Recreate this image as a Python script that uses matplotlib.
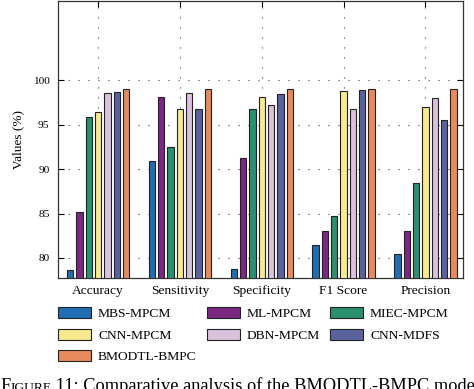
import numpy as np
import matplotlib
matplotlib.use('Agg')
import matplotlib.pyplot as plt

plt.rcParams['font.family'] = ['Liberation Serif', 'DejaVu Serif']

metrics = ['Accuracy', 'Sensitivity', 'Specificity', 'F1 Score', 'Precision']
models = ['MBS-MPCM', 'ML-MPCM', 'MIEC-MPCM', 'CNN-MPCM', 'DBN-MPCM', 'CNN-MDFS', 'BMODTL-BMPC']

mbs_mpcm = [78.6, 90.9, 78.8, 81.5, 80.4]
ml_mpcm = [85.2, 98.1, 91.3, 83.0, 83.0]
miec_mpcm = [95.8, 92.5, 96.8, 84.7, 88.4]
cnn_mpcm = [96.4, 96.8, 98.1, 98.8, 97.0]
dbn_mpcm = [98.5, 98.5, 97.2, 96.8, 98.0]
cnn_mdfs = [98.7, 96.8, 98.4, 98.9, 95.5]
bmodtl_bmpc = [99.0, 99.0, 99.0, 99.0, 99.0]

series = [mbs_mpcm, ml_mpcm, miec_mpcm, cnn_mpcm, dbn_mpcm, cnn_mdfs, bmodtl_bmpc]
colors = ['#1f6db2', '#7a2880', '#2a9170', '#f7e98e', '#dcc1dd', '#5b639e', '#e98a5c']

fig = plt.figure(figsize=(4.74, 3.89), dpi=100)
ax = fig.add_axes([58/474, 1-278/389, 405/474, 277/389])

x = np.arange(len(metrics))
step = 0.114
width = 0.078
handles = []
for i, (vals, c) in enumerate(zip(series, colors)):
    b = ax.bar(x + (i - 3) * step, vals, width, color=c, edgecolor='#222222',
               linewidth=0.8, label=models[i], zorder=3)
    handles.append(b)

ax.set_xlim(-0.49, 4.46)
ax.set_ylim(77.75, 108.9)
ax.set_yticks([80, 85, 90, 95, 100])
ax.set_xticks(x)
ax.set_xticklabels(metrics, fontsize=9.7)
ax.tick_params(axis='y', labelsize=8.2, pad=6)
ax.tick_params(direction='in', top=True, right=True, length=4, width=0.8)
ax.tick_params(axis='x', pad=5)
ax.set_ylabel('Values (%)', fontsize=9.5, labelpad=6)
ax.grid(True, linestyle=(0, (1, 8)), color='#444444', linewidth=0.8, zorder=0)
ax.set_axisbelow(True)
for s in ax.spines.values():
    s.set_linewidth(0.9)
    s.set_color('#333333')

# legend is filled column by column, so reorder to get the row layout
order = [0, 3, 6, 1, 4, 2, 5]
fig.legend([handles[k] for k in order], [models[k] for k in order],
           ncol=3, loc='upper left', bbox_to_anchor=(58/474, 1-307/389),
           frameon=False, fontsize=9.7, handlelength=2.45, handleheight=0.9,
           handletextpad=0.52, labelspacing=0.62, columnspacing=0.75,
           borderpad=0, borderaxespad=0)

# caption with small caps "Figure", cut by the bottom edge like the original
base_y = 1 - 391/389
parts = [('F', 13.2), ('IGURE', 9.7), (' 11: Comparative analysis of the BMODTL-BMPC model', 13.2)]
renderer = fig.canvas.get_renderer()
cx = 0.0
for txt, fs in parts:
    t = fig.text(cx, base_y, txt, fontsize=fs, va='baseline', ha='left')
    w = t.get_window_extent(renderer=renderer).width
    cx += w / fig.bbox.width

fig.savefig('out.png', dpi=100)
